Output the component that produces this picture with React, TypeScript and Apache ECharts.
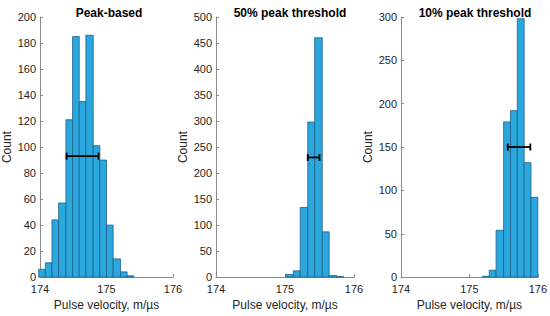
import React, { useEffect, useRef } from "react";
import * as echarts from "echarts";

const titles = ["Peak-based", "50% peak threshold", "10% peak threshold"];

// Histogram bin edges (m/µs) and counts for each panel
const edges1 = [173.98, 174.08, 174.18, 174.28, 174.39, 174.49, 174.59, 174.69, 174.80, 174.90, 175.00, 175.10, 175.21, 175.31, 175.41];
const counts1 = [6, 11, 44, 57, 121, 185, 135, 186, 101, 90, 40, 14, 4, 1];

const edges2 = [175.01, 175.12, 175.22, 175.33, 175.43, 175.54, 175.64, 175.75, 175.85];
const counts2 = [5, 12, 134, 298, 460, 87, 3, 1];

const edges3 = [175.19, 175.29, 175.39, 175.50, 175.60, 175.70, 175.80, 175.90, 176.00];
const counts3 = [1, 8, 54, 179, 192, 298, 132, 92];

// Error bars: [center, half-width, y position]
const errBar1 = [174.64, 0.24, 93];
const errBar2 = [175.415, 0.085, 230];
const errBar3 = [175.725, 0.165, 150];

const yMax = [200, 500, 300];
const yInterval = [20, 50, 50];

const xTicks = [174, 175, 176];

const FONT = "'Liberation Sans', Arial, Helvetica, sans-serif";
const BAR = "#2aa8de";
const EDGE = "#1e5f86";

export default function App() {
  const ref = useRef<HTMLDivElement>(null);
  useEffect(() => {
    if (!ref.current) return;
    const chart = echarts.init(ref.current, null, { renderer: "svg" });
    const lefts = [35, 216, 401];
    const width = 138;
    const top = 17;
    const bottom = 316 - 283;
    const edgesAll = [edges1, edges2, edges3];
    const countsAll = [counts1, counts2, counts3];
    const errAll = [errBar1, errBar2, errBar3];

    const grids = lefts.map((l) => ({ left: l, width, top, bottom }));
    const xAxes = lefts.map((_, i) => ({
      type: "value",
      gridIndex: i,
      min: xTicks[0],
      max: xTicks[xTicks.length - 1],
      interval: 1,
      name: "Pulse velocity, m/µs",
      nameLocation: "middle",
      nameGap: 17,
      nameTextStyle: { fontFamily: FONT, fontSize: 12, color: "#262626", verticalAlign: "top" },
      axisLine: { show: true, onZero: false, lineStyle: { color: "#8a8a8a", width: 1 } },
      axisTick: { show: true, inside: true, length: 3, lineStyle: { color: "#8a8a8a" } },
      axisLabel: { fontFamily: FONT, fontSize: 11, color: "#262626", margin: 6 },
      splitLine: { show: false },
    }));
    const yAxes = lefts.map((_, i) => ({
      type: "value",
      gridIndex: i,
      min: 0,
      max: yMax[i],
      interval: yInterval[i],
      name: "Count",
      nameLocation: "middle",
      nameGap: 27,
      nameTextStyle: { fontFamily: FONT, fontSize: 12, color: "#262626" },
      axisLine: { show: true, lineStyle: { color: "#8a8a8a", width: 1 } },
      axisTick: { show: true, inside: true, length: 3, lineStyle: { color: "#8a8a8a" } },
      axisLabel: { fontFamily: FONT, fontSize: 11, color: "#262626", margin: 4 },
      splitLine: { show: false },
    }));

    const series: any[] = [];
    for (let i = 0; i < 3; i++) {
      const edges = edgesAll[i];
      const counts = countsAll[i];
      const data = counts.map((c, k) => [edges[k], edges[k + 1], c]);
      series.push({
        type: "custom",
        xAxisIndex: i,
        yAxisIndex: i,
        clip: false,
        data,
        encode: { x: [0, 1], y: 2 },
        renderItem: (params: any, api: any) => {
          const p0 = api.coord([api.value(0), 0]);
          const p1 = api.coord([api.value(1), api.value(2)]);
          return {
            type: "rect",
            shape: { x: p0[0], y: p1[1], width: p1[0] - p0[0], height: p0[1] - p1[1] },
            style: { fill: BAR, stroke: EDGE, lineWidth: 0.8 },
          };
        },
      });
      const e = errAll[i];
      series.push({
        type: "custom",
        xAxisIndex: i,
        yAxisIndex: i,
        clip: false,
        data: [[e[0] - e[1], e[0] + e[1], e[2]]],
        encode: { x: [0, 1], y: 2 },
        z: 5,
        renderItem: (params: any, api: any) => {
          const a = api.coord([api.value(0), api.value(2)]);
          const b = api.coord([api.value(1), api.value(2)]);
          const h = 3.5;
          const st = { stroke: "#000", lineWidth: 1.8 };
          return {
            type: "group",
            children: [
              { type: "line", shape: { x1: a[0], y1: a[1], x2: b[0], y2: b[1] }, style: st },
              { type: "line", shape: { x1: a[0], y1: a[1] - h, x2: a[0], y2: a[1] + h }, style: st },
              { type: "line", shape: { x1: b[0], y1: b[1] - h, x2: b[0], y2: b[1] + h }, style: st },
            ],
          };
        },
      });
    }

    chart.setOption({
      animation: false,
      backgroundColor: "#fff",
      title: titles.map((t, i) => ({
        text: t,
        left: lefts[i] + width / 2,
        top: 2,
        textAlign: "center",
        textStyle: { fontFamily: FONT, fontSize: 12, fontWeight: "bold", color: "#000" },
      })),
      grid: grids,
      xAxis: xAxes,
      yAxis: yAxes,
      series,
    });
    return () => chart.dispose();
  }, []);
  return <div ref={ref} style={{ width: 550, height: 316, position: "absolute", left: 0, top: 0 }} />;
}
